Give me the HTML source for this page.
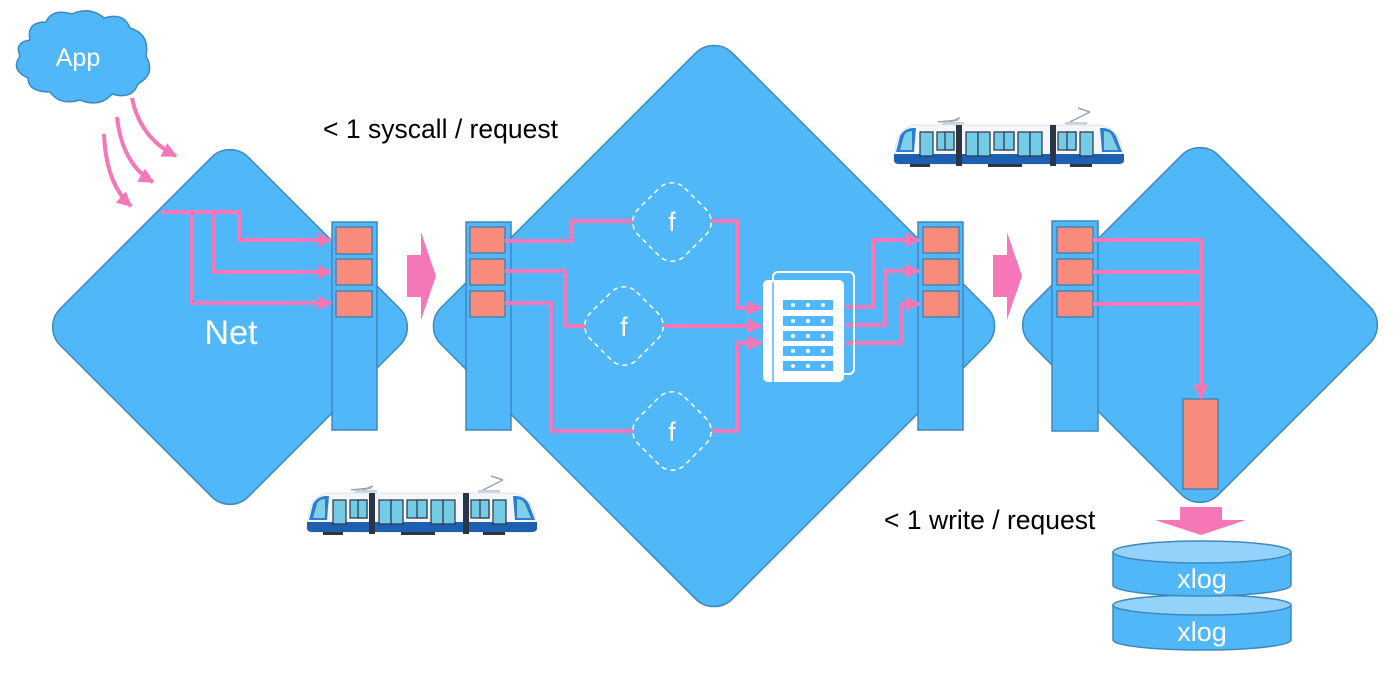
<!DOCTYPE html>
<html><head><meta charset="utf-8"><style>
html,body{margin:0;padding:0;background:#fff;}
svg{display:block;}
text{font-family:"Liberation Sans",Arial,sans-serif;}
</style></head><body>
<svg width="1400" height="676" viewBox="0 0 1400 676" xmlns="http://www.w3.org/2000/svg">
<defs>
<marker id="ah" viewBox="0 0 10 10" refX="9" refY="5" markerWidth="3.8" markerHeight="3.8" orient="auto" markerUnits="strokeWidth">
<path d="M0,0 L10,5 L0,10 z" fill="#f577b8"/></marker>
<g id="train">
<line x1="48" y1="14" x2="68" y2="12" stroke="#9aa3ad" stroke-width="1.5"/>
<line x1="60" y1="14" x2="70" y2="10" stroke="#9aa3ad" stroke-width="1.5"/>
<line x1="178" y1="15" x2="200" y2="4" stroke="#9aa3ad" stroke-width="1.5"/>
<line x1="200" y1="4" x2="188" y2="0" stroke="#9aa3ad" stroke-width="1.5"/>
<rect x="52" y="14" width="22" height="4" fill="#c9d2dc"/>
<rect x="175" y="14" width="22" height="4" fill="#c9d2dc"/>
<path d="M4,52 L6,36 Q10,20 24,17 L210,17 Q226,20 231,36 L234,52 Q234,56 228,56 L10,56 Q4,56 4,52z" fill="#f4f6f9" stroke="#dfe4ea"/>
<path d="M4,46 L234,46 L234,52 Q234,56 228,56 L10,56 Q4,56 4,52z" fill="#1f5fb0"/>
<path d="M6,44 L10,28 Q14,21 22,20 L26,20 L24,44z" fill="#2c7fd0"/>
<path d="M10,42 L14,28 Q16,23 22,23 L22,42z" fill="#7fcfe8"/>
<path d="M232,44 L226,28 Q222,21 214,20 L210,20 L212,44z" fill="#2c7fd0"/>
<path d="M228,42 L222,28 Q220,23 214,23 L214,42z" fill="#7fcfe8"/>
<rect x="66" y="17" width="6" height="41" fill="#2a3545"/>
<rect x="160" y="17" width="6" height="41" fill="#2a3545"/>
<g fill="#74cbe6" stroke="#2a3545" stroke-width="1.2">
<rect x="30" y="24" width="13" height="24"/>
<rect x="47" y="24" width="17" height="18"/><rect x="55" y="24" width="9" height="18"/>
<rect x="76" y="24" width="12" height="24"/><rect x="88" y="24" width="12" height="24"/>
<rect x="104" y="24" width="20" height="18"/><rect x="114" y="24" width="10" height="18"/>
<rect x="128" y="24" width="12" height="24"/><rect x="140" y="24" width="12" height="24"/>
<rect x="168" y="24" width="18" height="18"/><rect x="177" y="24" width="9" height="18"/>
<rect x="190" y="24" width="13" height="24"/>
</g>
<g fill="#2a3545"><rect x="20" y="56" width="20" height="3"/><rect x="98" y="56" width="34" height="3"/><rect x="180" y="56" width="22" height="3"/></g>
</g>
</defs>

<g fill="#50b8f8" stroke="#3f88be" stroke-width="1.5">
<rect x="97" y="194" width="266" height="266" rx="26" transform="rotate(45 230 327)"/>
<rect x="508" y="120" width="412" height="412" rx="26" transform="rotate(45 714 326)"/>
<rect x="1067" y="192" width="266" height="266" rx="26" transform="rotate(45 1200 325)"/>
</g>

<path d="M30,40 Q26,22 46,22 Q52,8 72,14 Q90,6 104,18 Q124,12 130,28 Q150,34 146,56 Q156,74 138,84 Q132,100 112,94 Q100,108 80,100 Q60,106 50,92 Q28,92 28,78 Q10,70 20,56 Q14,42 30,40z" fill="#50b8f8" stroke="#3f88be" stroke-width="1.5"/>
<text x="78" y="66" font-size="25" fill="#fff" text-anchor="middle">App</text>

<g fill="none" stroke="#f577b8" stroke-width="4" marker-end="url(#ah)">
<path d="M132,98 Q140,138 176,156"/>
<path d="M117,117 Q122,164 153,182"/>
<path d="M104,134 Q106,184 131,206"/>
</g>

<text x="231" y="344" font-size="34" fill="#fff" text-anchor="middle">Net</text>

<g fill="#50b8f8" stroke="#3f88be" stroke-width="1.5">
<rect x="332" y="222" width="45" height="208"/>
<rect x="466" y="222" width="45" height="208"/>
<rect x="918" y="222" width="45" height="208"/>
<rect x="1052" y="221" width="46" height="210"/>
</g>
<g fill="#f78c7c" stroke="#3a7ab0" stroke-width="1.2">
<rect x="336" y="227" width="36" height="27"/><rect x="336" y="259" width="36" height="26"/><rect x="336" y="291" width="36" height="26"/>
<rect x="470" y="227" width="35" height="26"/><rect x="470" y="259" width="35" height="26"/><rect x="470" y="291" width="35" height="26"/>
<rect x="923" y="227" width="36" height="26"/><rect x="923" y="259" width="36" height="26"/><rect x="923" y="291" width="36" height="26"/>
<rect x="1057" y="227" width="36" height="26"/><rect x="1057" y="259" width="36" height="26"/><rect x="1057" y="291" width="36" height="26"/>
<rect x="1183" y="399" width="35" height="90"/>
</g>

<g fill="#f577b8">
<path d="M407,255 L421,255 L421,232 L436,276 L421,320 L421,297 L407,297z"/>
<path d="M993,255 L1007,255 L1007,232 L1022,276 L1007,320 L1007,297 L993,297z"/>
<path d="M1180,507 L1222,507 L1222,520 L1246,520 L1201,535 L1155,520 L1180,520z"/>
</g>

<g fill="none" stroke="#f577b8" stroke-width="4">
<path d="M161,212 L239,212 L239,240 L331,240" marker-end="url(#ah)"/>
<path d="M214,212 L214,272 L331,272" marker-end="url(#ah)"/>
<path d="M192,212 L192,303 L331,303" marker-end="url(#ah)"/>
<path d="M505,241 L572,241 L572,221 L633,221"/>
<path d="M505,271 L565,271 L565,326 L585,326"/>
<path d="M505,303 L551,303 L551,431 L633,431"/>
<path d="M711,221 L737,221 L737,308 L761,308" marker-end="url(#ah)"/>
<path d="M663,326 L761,326" marker-end="url(#ah)"/>
<path d="M711,431 L737,431 L737,343 L761,343" marker-end="url(#ah)"/>
<path d="M845,307 L873,307 L873,240 L919,240" marker-end="url(#ah)"/>
<path d="M845,325 L885,325 L885,271 L919,271" marker-end="url(#ah)"/>
<path d="M845,343 L902,343 L902,304 L919,304" marker-end="url(#ah)"/>
<path d="M1093,240 L1201,240 L1201,398" marker-end="url(#ah)"/>
<path d="M1093,272 L1201,272"/>
<path d="M1093,304 L1201,304"/>
</g>

<g fill="none" stroke="#fff" stroke-width="1.5" stroke-dasharray="5,4">
<rect x="639" y="189" width="66" height="66" rx="18" transform="rotate(45 672 222)"/>
<rect x="591" y="293" width="66" height="66" rx="18" transform="rotate(45 624 326)"/>
<rect x="639" y="398" width="66" height="66" rx="18" transform="rotate(45 672 431)"/>
</g>
<g font-size="27" fill="#fff" text-anchor="middle">
<text x="672" y="231">f</text><text x="624" y="336">f</text><text x="672" y="441">f</text>
</g>

<rect x="773" y="272" width="81" height="102" rx="5" fill="none" stroke="#fff" stroke-width="2"/>
<rect x="763" y="280" width="81" height="102" rx="5" fill="#fff"/>
<line x1="773" y1="282" x2="773" y2="382" stroke="#50b8f8" stroke-width="1.5"/>
<g fill="#50b8f8">
<rect x="783" y="300" width="50" height="10"/><rect x="783" y="316" width="50" height="10"/><rect x="783" y="331" width="50" height="10"/><rect x="783" y="346" width="50" height="10"/><rect x="783" y="361" width="50" height="10"/>
</g>
<g fill="#fff">
<circle cx="793" cy="305" r="2"/><circle cx="808" cy="305" r="2"/><circle cx="823" cy="305" r="2"/>
<circle cx="793" cy="321" r="2"/><circle cx="808" cy="321" r="2"/><circle cx="823" cy="321" r="2"/>
<circle cx="793" cy="336" r="2"/><circle cx="808" cy="336" r="2"/><circle cx="823" cy="336" r="2"/>
<circle cx="793" cy="351" r="2"/><circle cx="808" cy="351" r="2"/><circle cx="823" cy="351" r="2"/>
<circle cx="793" cy="366" r="2"/><circle cx="808" cy="366" r="2"/><circle cx="823" cy="366" r="2"/>
</g>

<g stroke="#3f88be" stroke-width="1.5">
<path d="M1113,605 L1113,640 A89,10 0 0 0 1291,640 L1291,605z" fill="#50b8f8"/>
<ellipse cx="1202" cy="605" rx="89" ry="10" fill="#93d3f9"/>
<path d="M1113,552 L1113,585 A89,11 0 0 0 1291,585 L1291,552z" fill="#50b8f8"/>
<ellipse cx="1202" cy="552" rx="89" ry="11" fill="#93d3f9"/>
</g>
<g font-size="27" fill="#fff" text-anchor="middle">
<text x="1202" y="588">xlog</text><text x="1202" y="641">xlog</text>
</g>

<text x="323" y="138" font-size="26.5" fill="#000">&lt; 1 syscall / request</text>
<text x="884" y="529" font-size="26.5" fill="#000">&lt; 1 write / request</text>

<use href="#train" transform="translate(303,476)"/>
<use href="#train" transform="translate(890,108)"/>
</svg>
</body></html>
